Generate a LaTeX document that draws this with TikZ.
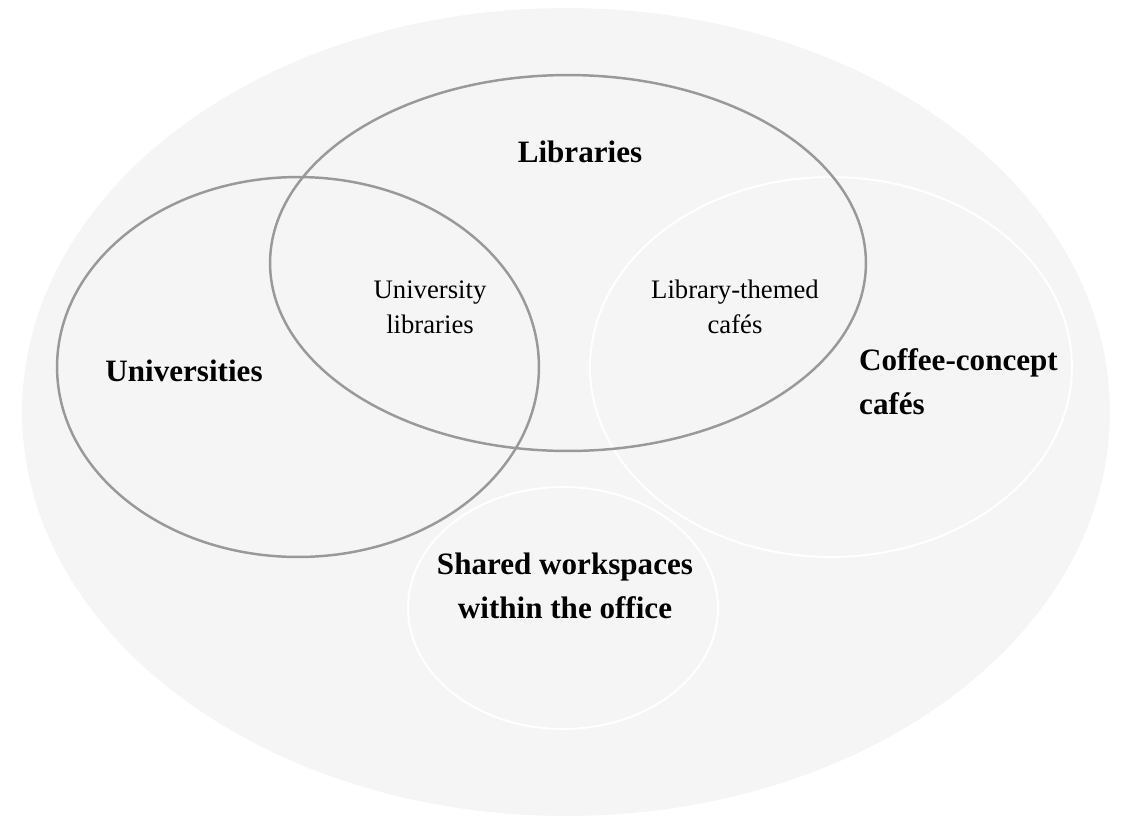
\documentclass[tikz,border=0pt]{standalone}
\usepackage{fontspec}
\setmainfont{Liberation Serif}
\definecolor{bgfill}{HTML}{F5F5F5}
\definecolor{ringgray}{HTML}{999999}
\tikzset{
  ring/.style={draw=ringgray, line width=1.4pt},
  pale/.style={draw=white, line width=1.1pt},
  big/.style={font=\fontsize{17.7}{25}\selectfont\bfseries, align=center},
  small/.style={font=\fontsize{15.2}{19.8}\selectfont, align=center}
}
\begin{document}
\begin{tikzpicture}[x=0.02cm, y=-0.02cm]
  \useasboundingbox (0,0) rectangle (1137,833);
  \fill[bgfill] (566,412) ellipse [x radius=10.88cm, y radius=8.08cm];
  \draw[pale] (831,367) ellipse [x radius=4.82cm, y radius=3.8cm];
  \draw[pale] (563,608) ellipse [x radius=3.1cm, y radius=2.42cm];
  \draw[ring] (568,263) ellipse [x radius=5.96cm, y radius=3.76cm];
  \draw[ring] (298,367) ellipse [x radius=4.82cm, y radius=3.8cm];
  \node[big] (libraries) at (580,152) {Libraries};
  \node[big] (universities) at (184,371) {Universities};
  \node[small] (unilib) at (430,307) {University\\libraries};
  \node[small] (libcafe) at (735,307) {Library-themed\\cafés};
  \node[big, align=left, anchor=west] (coffee) at (853,382) {Coffee-concept\\cafés};
  \node[big] (shared) at (565,586) {Shared workspaces\\within the office};
\end{tikzpicture}
\end{document}
